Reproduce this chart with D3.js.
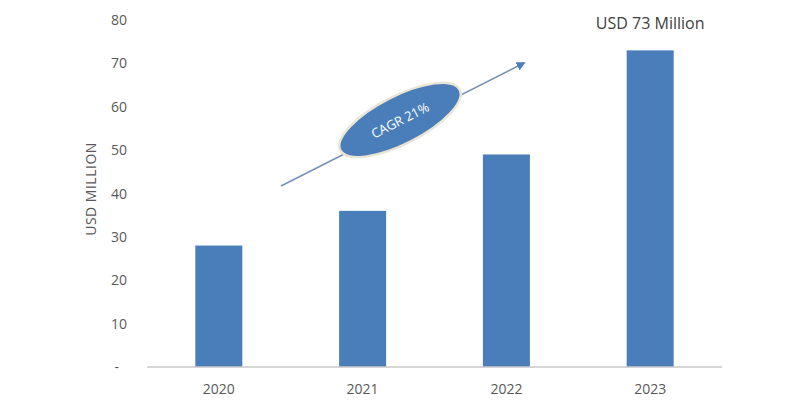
<!DOCTYPE html>
<html>
  <head>
    <script src="https://d3js.org/d3.v7.min.js"></script>
    <style>
      body { margin: 0; background: #fff; }
      text { font-family: "Open Sans", "DejaVu Sans", sans-serif; }
    </style>
  </head>
  <body>
    <script type="text/javascript">

    // chart data
    var years = ["2020", "2021", "2022", "2023"];
    var marketSize = [28, 36, 49, 73];
    var yTicks = [0, 10, 20, 30, 40, 50, 60, 70, 80];
    var topNote = "USD 73 Million";
    var cagrLabel = "CAGR 21%";
    var yTitle = "USD MILLION";

    var width = 800, height = 419;
    var svg = d3.select("body").append("svg")
        .attr("width", width)
        .attr("height", height);

    var x = d3.scaleBand()
        .domain(years)
        .range([147, 722])
        .paddingInner(0.673)
        .paddingOuter(0.336);

    var y = d3.scaleLinear()
        .domain([0, 80])
        .range([367, 20]);

    // bars
    svg.selectAll("rect.bar")
      .data(marketSize)
      .enter()
      .append("rect")
        .attr("class", "bar")
        .attr("x", function (d, i) { return x(years[i]); })
        .attr("width", x.bandwidth())
        .attr("y", function (d) { return y(d); })
        .attr("height", function (d) { return y(0) - y(d); })
        .attr("fill", "#4a7ebb");

    // x axis baseline + labels
    svg.append("line")
        .attr("x1", 147).attr("x2", 722)
        .attr("y1", y(0)).attr("y2", y(0))
        .attr("stroke", "#c8c8c8")
        .attr("stroke-width", 1.5);

    svg.selectAll("text.xlab")
      .data(years)
      .enter()
      .append("text")
        .attr("class", "xlab")
        .attr("x", function (d) { return x(d) + x.bandwidth() / 2; })
        .attr("y", 394)
        .attr("text-anchor", "middle")
        .style("font-size", "14px")
        .style("fill", "#595959")
        .text(function (d) { return d; });

    // y tick labels (no axis line)
    svg.selectAll("text.ylab")
      .data(yTicks)
      .enter()
      .append("text")
        .attr("class", "ylab")
        .attr("x", function (d) { return d === 0 ? 119 : 127; })
        .attr("y", function (d) { return y(d) + 5; })
        .attr("text-anchor", "end")
        .style("font-size", "14px")
        .style("fill", "#595959")
        .text(function (d) { return d === 0 ? "-" : d; });

    svg.append("text")
        .attr("transform", "translate(96,189) rotate(-90)")
        .attr("text-anchor", "middle")
        .style("font-size", "14px")
        .style("letter-spacing", "0.5px")
        .style("fill", "#595959")
        .text(yTitle);

    // value note above last bar
    svg.append("text")
        .attr("x", x("2023") + x.bandwidth() / 2)
        .attr("y", 29)
        .attr("text-anchor", "middle")
        .style("font-size", "16px")
        .style("fill", "#404040")
        .text(topNote);

    // growth arrow
    svg.append("defs").append("marker")
        .attr("id", "arrowhead")
        .attr("viewBox", "0 0 10 10")
        .attr("refX", 8).attr("refY", 5)
        .attr("markerWidth", 6).attr("markerHeight", 6)
        .attr("orient", "auto")
      .append("path")
        .attr("d", "M0,0 L10,5 L0,10 z")
        .attr("fill", "#4a7ebb");

    svg.append("line")
        .attr("x1", 281).attr("y1", 186)
        .attr("x2", 524).attr("y2", 63)
        .attr("stroke", "#7890b5")
        .attr("stroke-width", 1.5)
        .attr("marker-end", "url(#arrowhead)");

    var badge = svg.append("g")
        .attr("transform", "translate(400,120) rotate(-27)");

    badge.append("ellipse")
        .attr("rx", 67).attr("ry", 24)
        .attr("fill", "#4a7ebb")
        .attr("stroke", "#ebe5d3")
        .attr("stroke-width", 2.5);

    badge.append("text")
        .attr("y", 5)
        .attr("text-anchor", "middle")
        .style("font-size", "13px")
        .style("fill", "#ffffff")
        .text(cagrLabel);

    </script>
  </body>
</html>
